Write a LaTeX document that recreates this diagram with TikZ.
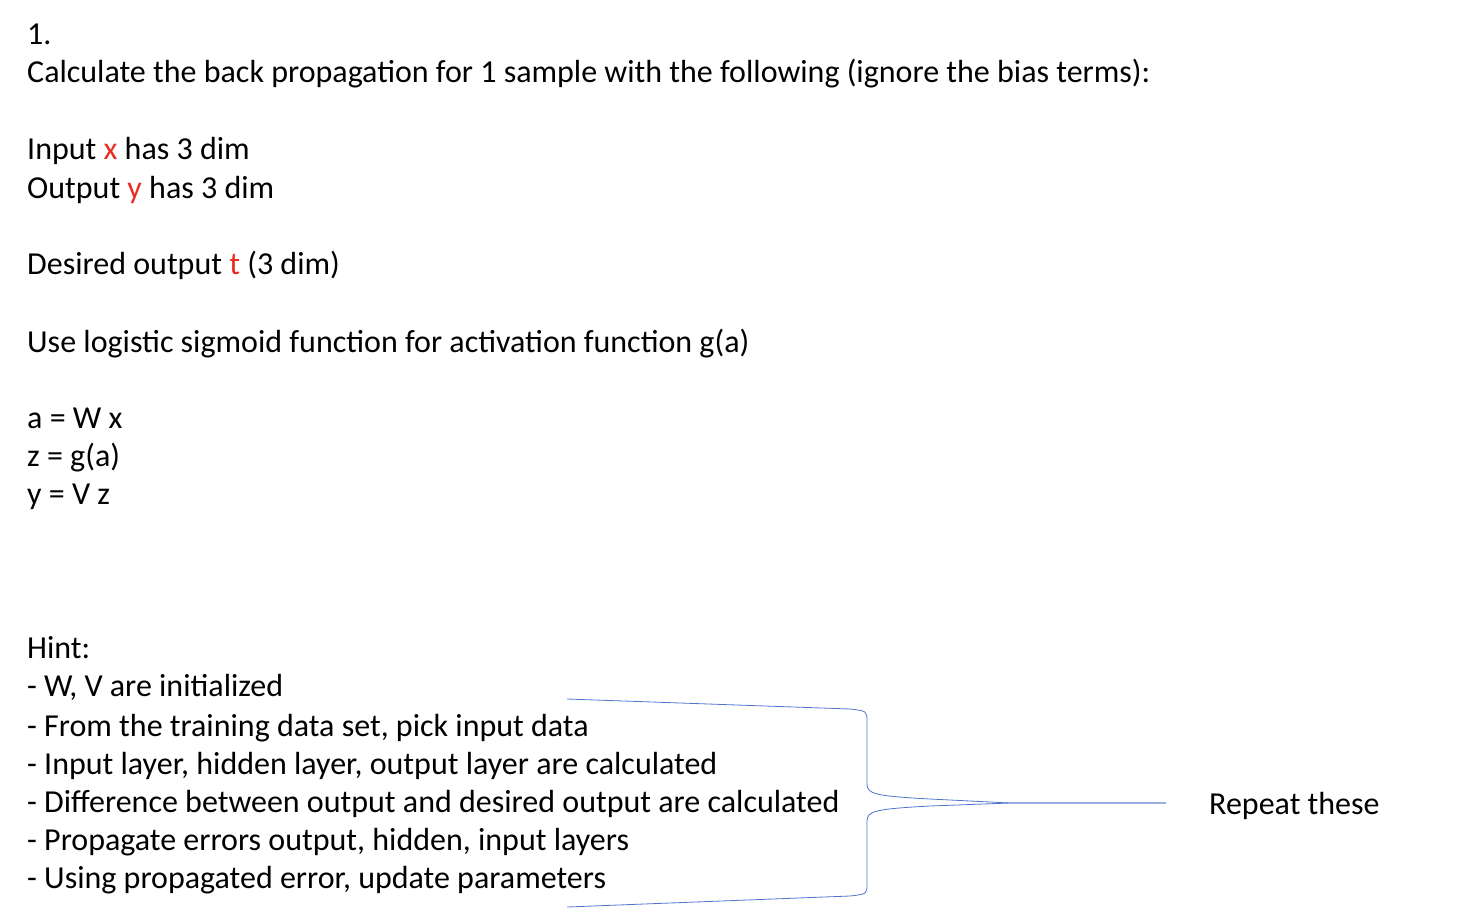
\documentclass[tikz,border=0pt]{standalone}
\usepackage{fontspec}
\setmainfont{Carlito}
\definecolor{hl}{RGB}{232,45,35}
\definecolor{br}{RGB}{80,115,205}
\begin{document}
\begin{tikzpicture}[x=1pt,y=1pt,
  txt/.style={anchor=base west,inner sep=0pt,font=\fontsize{32}{38}\selectfont}]
\useasboundingbox (0,0) rectangle (1474,-920);
\node[txt] (n1) at (27,-45) {1.};
\node[txt] (calc) at (27,-83) {Calculate the back propagation for 1 sample with the following (ignore the bias terms):};
\node[txt] (inp) at (27,-160) {Input \textcolor{hl}{x} has 3 dim};
\node[txt] (outp) at (27,-198) {Output \textcolor{hl}{y} has 3 dim};
\node[txt] (des) at (27,-274) {Desired output \textcolor{hl}{t} (3 dim)};
\node[txt] (use) at (27,-352) {Use logistic sigmoid function for activation function g(a)};
\node[txt] (e1) at (27,-428) {a = W x};
\node[txt] (e2) at (27,-466) {z = g(a)};
\node[txt] (e3) at (27,-504) {y = V z};
\node[txt] (hint) at (27,-658) {Hint:};
\node[txt] (h1) at (27,-696) {- W, V are initialized};
\node[txt] (h2) at (27,-736) {- From the training data set, pick input data};
\node[txt] (h3) at (27,-774) {- Input layer, hidden layer, output layer are calculated};
\node[txt] (h4) at (27,-812) {- Difference between output and desired output are calculated};
\node[txt] (h5) at (27,-850) {- Propagate errors output, hidden, input layers};
\node[txt] (h6) at (27,-888) {- Using propagated error, update parameters};
\node[txt] (rep) at (1209,-814) {Repeat these};
\coordinate (bt) at (567,-699);
\coordinate (bb) at (567,-907);
\coordinate (tip) at (1166,-803);
\draw[br,line width=0.8pt] (bt) -- (850,-709) .. controls (867,-711) .. (867,-722)
  -- (867,-784) .. controls (867,-794) and (875,-796) .. (930,-799) -- (1010,-803) -- (tip);
\draw[br,line width=0.8pt] (tip) -- (1010,-803) -- (930,-806) .. controls (875,-809) and (867,-811) .. (867,-821)
  -- (867,-884) .. controls (867,-894) .. (850,-896) -- (bb);
\end{tikzpicture}
\end{document}
